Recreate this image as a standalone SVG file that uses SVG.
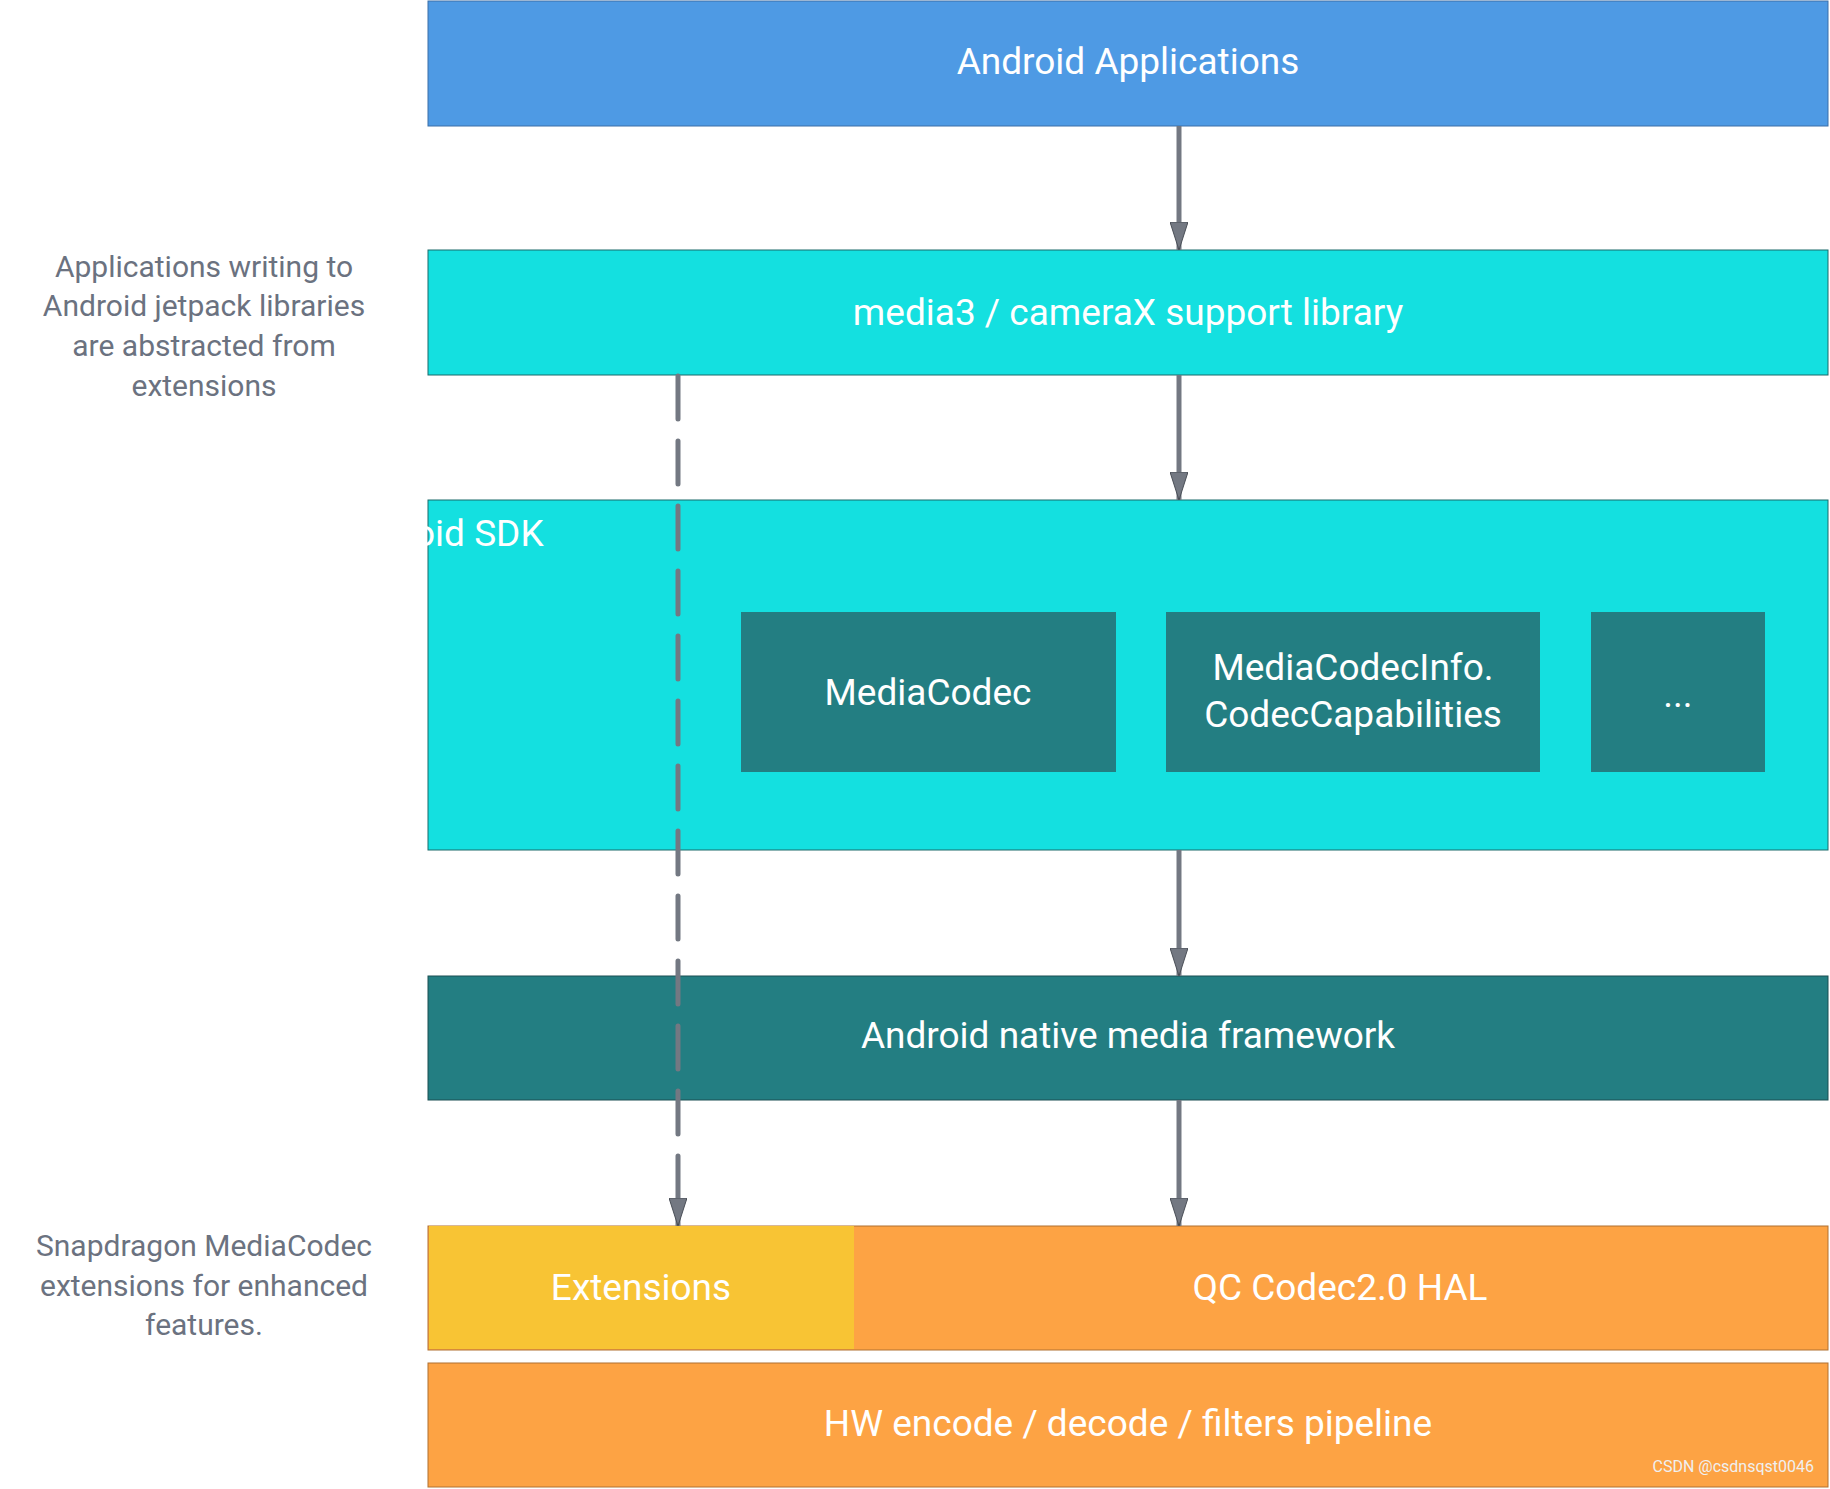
<svg xmlns="http://www.w3.org/2000/svg" width="1830" height="1489" viewBox="0 0 1830 1489">
<defs>
<style>
text{font-family:Roboto,"Liberation Sans",sans-serif;}
.w{fill:#fff;font-size:37px;text-anchor:middle;dominant-baseline:central}
.note{fill:#6B7280;font-size:30px;text-anchor:middle;dominant-baseline:central}
.ln{stroke:#737882;stroke-width:5;fill:none}
</style>
<marker id="ah" markerUnits="userSpaceOnUse" markerWidth="30" markerHeight="18" refX="28" refY="9" orient="auto">
<path d="M0,0 L28,9 L0,18 Z" fill="#737882" stroke="#4a4f57" stroke-width="1"/>
</marker>
</defs>
<rect width="1830" height="1489" fill="#fff"/>
<g id="apps"><rect x="428" y="1" width="1400" height="125" fill="#4E9AE4" stroke="#3a6fa8" stroke-width="1"/><text class="w" x="1128" y="61">Android Applications</text></g>
<g id="media3"><rect x="428" y="250" width="1400" height="125" fill="#14E0E0" stroke="#1b6b6b" stroke-width="1"/><text class="w" x="1128" y="312">media3 / cameraX support library</text></g>
<g id="sdk"><rect x="428" y="500" width="1400" height="350" fill="#14E0E0" stroke="#1b6b6b" stroke-width="1"/><text class="w" x="440" y="533" text-anchor="start">Android SDK</text></g>
<g id="mediacodec"><rect x="741" y="612" width="375" height="160" fill="#237E82"/><text class="w" x="928" y="692">MediaCodec</text></g>
<g id="codecinfo"><rect x="1166" y="612" width="374" height="160" fill="#237E82"/><text class="w" x="1353" y="667">MediaCodecInfo.</text><text class="w" x="1353" y="714">CodecCapabilities</text></g>
<g id="more"><rect x="1591" y="612" width="174" height="160" fill="#237E82"/><text class="w" x="1678" y="694">...</text></g>
<g id="native"><rect x="428" y="976" width="1400" height="124" fill="#237E82" stroke="#1b4f52" stroke-width="1"/><text class="w" x="1128" y="1035">Android native media framework</text></g>
<g id="qc"><rect x="428" y="1226" width="1400" height="124" fill="#FDA344" stroke="#b07030" stroke-width="1"/><text class="w" x="1340" y="1287">QC Codec2.0 HAL</text></g>
<g id="ext"><rect x="429" y="1226" width="425" height="123" fill="#F8C434"/><text class="w" x="641" y="1287">Extensions</text></g>
<g id="hw"><rect x="428" y="1363" width="1400" height="124" fill="#FDA344" stroke="#b07030" stroke-width="1"/><text class="w" x="1128" y="1423">HW encode / decode / filters pipeline</text></g>
<g id="note1"><text class="note" x="204" y="266">Applications writing to</text><text class="note" x="204" y="305">Android jetpack libraries</text><text class="note" x="204" y="345">are abstracted from</text><text class="note" x="204" y="385">extensions</text></g>
<g id="note2"><text class="note" x="204" y="1245">Snapdragon MediaCodec</text><text class="note" x="204" y="1285">extensions for enhanced</text><text class="note" x="204" y="1324">features.</text></g>
<g id="connectors">
<line class="ln" x1="1179" y1="126" x2="1179" y2="250" marker-end="url(#ah)"/>
<line class="ln" x1="1179" y1="375" x2="1179" y2="500" marker-end="url(#ah)"/>
<line class="ln" x1="1179" y1="850" x2="1179" y2="976" marker-end="url(#ah)"/>
<line class="ln" x1="1179" y1="1100" x2="1179" y2="1226" marker-end="url(#ah)"/>
<line class="ln" x1="678" y1="376" x2="678" y2="1205" stroke-dasharray="43 22" stroke-linecap="round"/>
<line class="ln" x1="678" y1="1200" x2="678" y2="1226" marker-end="url(#ah)"/>
</g>
<text x="1814" y="1472" font-size="16" fill="#f0f0f0" text-anchor="end">CSDN @csdnsqst0046</text>
</svg>
